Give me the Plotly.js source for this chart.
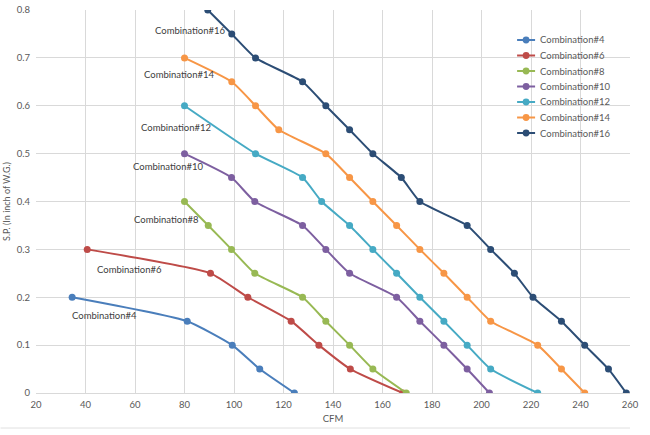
<!DOCTYPE html>
<html>
<head>
<meta charset="utf-8">
<script src="https://cdn.plot.ly/plotly-3.0.1.min.js"></script>
<style>html,body{margin:0;padding:0;background:#fff;}#chart{width:650px;height:435px;}</style>
</head>
<body>
<div id="chart"></div>
<script>
const seriesNames = ["Combination#4","Combination#6","Combination#8","Combination#10","Combination#12","Combination#14","Combination#16"];
const colors = ["#4a7ebb","#be4b48","#98b954","#7d5fa0","#46aac4","#f79646","#2c4d75"];

const cfm4  = [34.6, 81.1, 99.3, 110.4, 124.4];
const sp4   = [0.2, 0.15, 0.1, 0.05, 0];
const cfm6  = [40.7, 90.5, 105.6, 123.1, 134.3, 147, 168.2];
const sp6   = [0.3, 0.25, 0.2, 0.15, 0.1, 0.05, 0];
const cfm8  = [80, 89.6, 99, 108.4, 127.7, 137.1, 146.7, 156.1, 169.6];
const sp8   = [0.4, 0.35, 0.3, 0.25, 0.2, 0.15, 0.1, 0.05, 0];
const cfm10 = [80, 99, 108.4, 127.7, 137.1, 146.7, 165.7, 175.1, 184.8, 194.2, 203.2];
const sp10  = [0.5, 0.45, 0.4, 0.35, 0.3, 0.25, 0.2, 0.15, 0.1, 0.05, 0];
const cfm12 = [80, 108.7, 127.7, 135.4, 146.7, 156.1, 165.7, 175.1, 184.8, 194.2, 203.7, 222.7];
const sp12  = [0.6, 0.5, 0.45, 0.4, 0.35, 0.3, 0.25, 0.2, 0.15, 0.1, 0.05, 0];
const cfm14 = [80, 99.1, 108.7, 118.1, 137.1, 146.7, 156.1, 165.7, 175.1, 184.8, 194.2, 203.7, 222.7, 232.3, 241.7];
const sp14  = [0.7, 0.65, 0.6, 0.55, 0.5, 0.45, 0.4, 0.35, 0.3, 0.25, 0.2, 0.15, 0.1, 0.05, 0];
const cfm16 = [89.4, 99.1, 108.7, 127.7, 137.1, 146.7, 156.1, 167.6, 175.1, 194.2, 203.7, 213.3, 220.8, 232.3, 241.7, 251.3, 258.5];
const sp16  = [0.8, 0.75, 0.7, 0.65, 0.6, 0.55, 0.5, 0.45, 0.4, 0.35, 0.3, 0.25, 0.2, 0.15, 0.1, 0.05, 0];

const xTicks = [20,40,60,80,100,120,140,160,180,200,220,240,260];
const yTicks = [0,0.1,0.2,0.3,0.4,0.5,0.6,0.7,0.8];

// in-chart label positions (data coords)
const labelX = [47.7, 57.8, 72.7, 73.5, 76.4, 78.0, 82.4];
const labelY = [0.162, 0.258, 0.362, 0.474, 0.554, 0.665, 0.757];

const xs = [cfm4, cfm6, cfm8, cfm10, cfm12, cfm14, cfm16];
const ys = [sp4, sp6, sp8, sp10, sp12, sp14, sp16];

const FONT = 'Lato, Open Sans, Liberation Sans, sans-serif';
const W = 650, H = 435;
const M = {l: 35.5, r: 20, t: 10, b: 42};
const pw = W - M.l - M.r, ph = H - M.t - M.b;
const px = X => (X - M.l) / pw;           // pixel -> paper x
const py = Y => (H - M.b - Y) / ph;       // pixel -> paper y

const traces = seriesNames.map((n, i) => ({
  type: 'scatter', mode: 'lines+markers', name: n, showlegend: false,
  x: xs[i], y: ys[i],
  line: {color: colors[i], width: 2, shape: 'spline', smoothing: 0.5},
  marker: {color: colors[i], size: 7}
}));

const annotations = seriesNames.map((n, i) => ({
  x: labelX[i], y: labelY[i], xref: 'x', yref: 'y', text: n, showarrow: false,
  font: {family: FONT, size: 9.5, color: '#404040'}
}));

// legend (custom, to match compact spacing)
const shapes = [];
const legTop = 40, legStep = 15.5;
seriesNames.forEach((n, i) => {
  const yy = legTop + i * legStep;
  shapes.push({type: 'line', xref: 'paper', yref: 'paper', x0: px(517), x1: px(535), y0: py(yy), y1: py(yy),
               line: {color: colors[i], width: 2}});
  shapes.push({type: 'circle', xref: 'paper', yref: 'paper', x0: px(522.6), x1: px(529.4), y0: py(yy - 3.4), y1: py(yy + 3.4),
               fillcolor: colors[i], line: {color: colors[i], width: 0}});
  annotations.push({x: px(537.5), y: py(yy), xref: 'paper', yref: 'paper', xanchor: 'left', yanchor: 'middle',
                    text: n, showarrow: false, font: {family: FONT, size: 9.5, color: '#595959'}});
});
shapes.push({type: 'line', xref: 'paper', yref: 'paper', x0: px(0), x1: px(630), y0: py(428), y1: py(428),
             line: {color: '#e0e0e0', width: 1}});

const layout = {
  width: W, height: H,
  margin: M,
  paper_bgcolor: '#fff', plot_bgcolor: '#fff',
  font: {family: FONT, size: 9.5, color: '#595959'},
  showlegend: false,
  xaxis: {
    range: [20, 260], tickvals: xTicks, ticktext: xTicks.map(String),
    showgrid: true, gridcolor: '#d9d9d9', gridwidth: 1, zeroline: false,
    showline: true, linecolor: '#d9d9d9', ticks: '', ticklabelstandoff: 3,
    title: {text: 'CFM', font: {family: FONT, size: 9.5, color: '#595959'}, standoff: 5},
    tickfont: {family: FONT, size: 9.5, color: '#595959'}
  },
  yaxis: {
    range: [0, 0.8], tickvals: yTicks, ticktext: yTicks.map(String),
    showgrid: true, gridcolor: '#d9d9d9', gridwidth: 1, zeroline: false,
    showline: false, ticks: '', ticklabelstandoff: 5,
    title: {text: 'S.P. (In inch of W.G.)', font: {family: FONT, size: 9, color: '#595959'}, standoff: 4},
    tickfont: {family: FONT, size: 9.5, color: '#595959'}
  },
  annotations: annotations,
  shapes: shapes
};

Plotly.newPlot('chart', traces, layout, {displayModeBar: false, staticPlot: true});
</script>
</body>
</html>
